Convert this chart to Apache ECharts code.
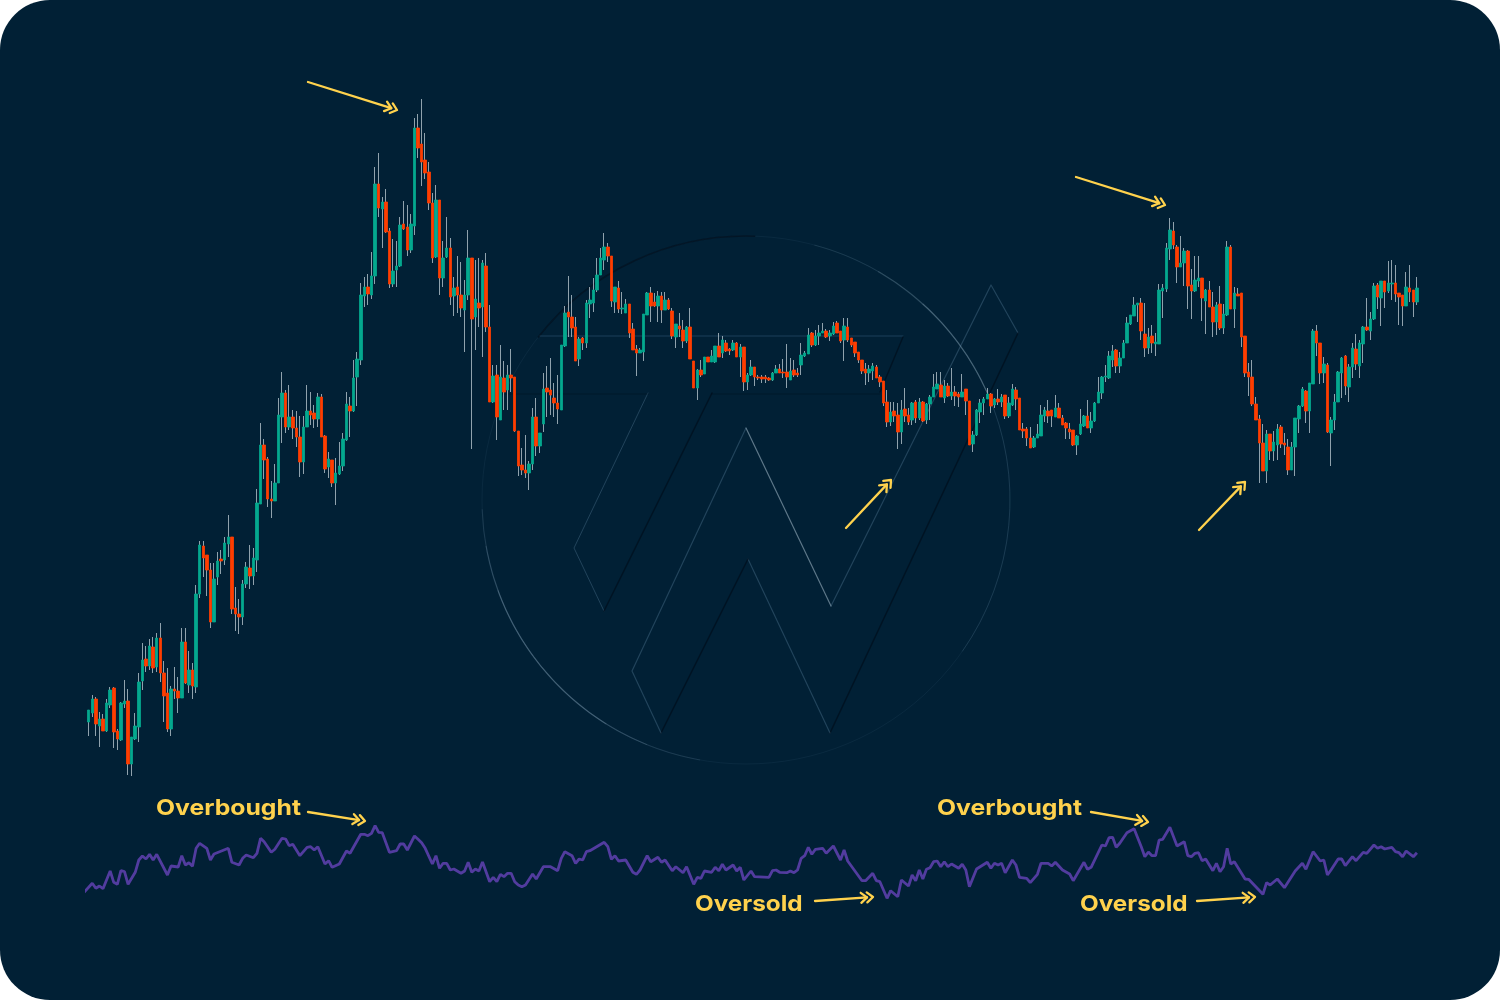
<!DOCTYPE html>
<html>
<head>
<meta charset="utf-8">
<style>html,body{margin:0;padding:0;background:#fff}#c{width:1500px;height:1000px}</style>
<script src="https://cdn.jsdelivr.net/npm/echarts@6/dist/echarts.min.js"></script>
</head>
<body>
<div id="c"></div>
<script>
// candles: [open, close, low, high]
const candlesA = [[278,290,264,290],[287,301,283,305],[301,276,264,303],[274,281,253,288],[281,269,269,286],[269,297,268,301],[295,310,292,313],[312,268,252,313],[269,261,250,271],[260,297,259,298],
[296,299,292,320],[299,236,225,311],[236,263,224,263],[261,274,260,287],[273,318,258,327],[319,340,310,357],[341,334,328,354],[334,354,330,361],[353,332,327,363],[333,362,328,367],
[362,327,318,377],[327,304,278,339],[307,271,268,332],[271,311,264,314],[311,309,301,333],[309,302,287,323],[302,358,302,372],[358,317,316,372],[315,330,307,349],[330,314,301,337],
[313,406,307,415],[406,455,402,459],[454,442,423,459],[445,430,404,445],[430,378,372,437],[378,421,378,437],[423,439,415,448],[441,439,426,450],[440,457,435,463],[456,463,443,485],
[463,391,386,463],[392,386,369,413],[386,383,366,401],[383,416,375,420],[416,433,412,438],[432,424,411,455],[424,442,415,452],[440,497,428,511],[496,555,496,577],[555,540,521,561],
[541,501,493,543],[501,499,482,519],[499,517,499,536],[517,585,517,602],[583,607,557,628],[607,573,567,610],[573,583,570,615],[583,572,561,590],[572,563,553,589],[563,538,523,584],
[538,573,526,584],[573,589,573,615],[589,585,575,608],[587,581,572,595],[581,603,573,607],[603,563,563,606],[564,531,527,565],[533,541,522,548],[540,517,513,540],[517,527,495,542],
[526,534,525,558],[534,561,529,567],[560,596,559,608],[594,589,563,603],[589,622,588,640],[623,641,594,648],[640,705,635,717],[704,713,693,723],[713,706,695,726],[705,724,701,748],
[724,816,716,833],[816,792,783,847],[791,798,752,803],[798,768,767,811],[769,716,712,772],[716,729,713,761],[730,734,713,759],[734,775,733,783],[776,771,770,799],[773,750,744,795],
[750,776,747,786],[774,872,765,882],[872,852,842,886],[856,838,814,901],[840,827,821,867],[828,797,790,838],[797,742,737,807],[743,800,742,815],[800,722,705,800],[722,742,713,759]];
const candlesB = [[743,752,742,783],[752,703,695,762],[704,712,684,723],[713,705,687,744],[705,692,683,738],[690,705,648,720],[705,742,700,770],[742,681,551,742],[683,701,650,740],[697,692,673,742],
[693,737,643,740],[734,673,668,747],[673,598,598,695],[598,624,597,635],[625,583,560,635],[580,623,580,655],[622,608,590,639],[610,625,590,635],[625,622,608,651],[623,569,568,623],
[569,534,524,569],[535,530,525,552],[530,527,522,565],[527,536,510,539],[536,583,530,592],[583,554,544,602],[554,567,547,567],[576,611,568,627],[612,608,583,634],[610,605,585,642],
[602,597,583,617],[597,591,576,625],[590,655,590,655],[654,687,653,694],[688,683,663,724],[683,672,663,705],[673,639,639,683],[641,661,634,663],[662,657,650,663],[657,697,652,700],
[696,700,682,713],[697,710,688,722],[710,725,708,742],[725,742,725,752],[740,753,730,767],[753,744,738,757],[744,699,693,744],[698,713,687,713],[712,691,687,719],[691,692,686,708],
[687,696,687,701],[696,667,662,696],[671,650,650,677],[651,647,624,655],[647,650,647,652],[648,686,639,686],[685,707,685,708],[707,694,678,713],[698,694,693,707],[694,704,678,709],
[704,690,677,708],[690,700,690,708],[700,691,690,702],[689,664,661,692],[663,676,652,676],[674,671,663,687],[670,659,652,680],[659,673,657,674],[673,641,641,692],[639,612,612,639],
[612,630,600,631],[630,625,623,640],[626,643,626,643],[643,638,638,643],[638,644,638,650],[638,654,637,654],[654,643,643,667],[647,660,642,664],[657,649,648,660],[651,649,645,652],
[650,657,649,660],[657,643,643,658],[643,653,623,656],[653,618,609,653],[618,625,610,627],[625,633,624,640],[633,623,614,633],[623,622,620,625],[623,621,617,625],[623,621,617,625],
[622,620,619,623],[620,627,619,628],[627,631,627,635],[631,627,627,636],[628,627,622,641],[628,623,612,656],[620,629,620,642],[630,625,623,640],[627,625,623,632],[635,645,625,657]];
const candlesC = [[644,647,643,649],[646,665,646,672],[667,655,653,668],[655,664,654,670],[664,667,655,675],[667,669,667,677],[669,663,662,671],[664,667,659,670],[666,674,665,678],[677,667,667,679],
[669,659,657,669],[660,674,639,682],[673,660,658,682],[662,655,653,662],[658,647,643,658],[648,640,637,648],[640,629,626,640],[631,627,615,637],[627,631,618,635],[629,634,620,637],
[633,622,622,635],[623,618,613,625],[619,597,594,619],[598,578,573,610],[578,588,574,598],[589,584,578,598],[585,568,551,597],[568,590,556,600],[591,584,578,612],[585,578,575,592],
[580,597,575,598],[598,582,577,600],[582,598,580,602],[598,579,578,599],[580,596,576,597],[596,603,580,605],[603,613,603,626],[611,616,611,628],[615,603,603,628],[602,614,597,620],
[614,604,603,617],[604,608,600,632],[608,604,594,614],[606,603,593,608],[603,608,603,626],[611,599,585,611],[599,555,555,599],[556,565,548,569],[565,590,564,591],[588,597,577,601],
[597,601,585,603],[601,606,601,612],[606,594,587,607],[595,601,592,602],[601,598,595,611],[598,603,593,606],[605,584,581,605],[584,597,582,603],[595,611,594,616],[610,601,590,613],
[602,570,570,602],[571,569,562,577],[571,562,554,573],[562,552,552,573],[553,562,552,564],[562,566,562,576],[564,585,564,595],[584,590,578,593],[589,584,577,600],[590,584,573,590],
[583,592,583,605],[592,582,582,597],[582,575,575,585],[577,572,561,578],[571,568,561,577],[570,555,554,570],[555,564,545,565],[566,576,565,591],[574,584,573,585],[584,572,572,600],
[572,579,567,588],[579,597,578,598],[597,608,597,623],[607,623,601,624],[623,624,618,635],[622,644,621,649],[640,649,633,655],[650,634,627,651],[634,642,627,648],[642,657,642,660],
[657,677,657,683],[676,685,675,685],[684,695,684,703],[695,697,678,697],[697,669,660,702],[666,652,643,697],[652,663,646,672],[664,657,647,675],[656,658,644,667],[656,710,656,716]];
const candlesD = [[709,712,682,716],[711,752,708,757],[751,770,740,782],[769,755,751,778],[753,733,717,755],[733,737,733,764],[737,749,714,752],[749,714,691,750],[715,709,681,731],[709,720,708,744],
[719,722,713,744],[722,702,679,722],[699,710,666,711],[710,693,693,719],[693,678,663,708],[678,695,665,698],[696,672,670,714],[672,686,666,696],[685,753,684,759],[753,691,691,755],
[691,707,672,713],[706,704,704,712],[707,663,653,707],[664,627,623,664],[628,623,604,637],[623,596,594,640],[596,580,580,603],[581,557,517,585],[557,529,529,576],[529,566,517,570],
[566,549,540,566],[549,558,539,569],[555,571,540,576],[573,556,552,575],[557,555,545,567],[553,530,525,561],[530,553,530,558],[553,582,524,582],[581,594,567,595],[594,611,593,613],
[609,589,577,610],[589,617,567,617],[616,669,616,671],[669,657,644,675],[657,627,616,657],[627,636,617,643],[635,568,567,637],[567,580,534,583],[580,598,570,606],[598,628,598,629],
[627,642,602,643],[644,614,605,645],[613,633,598,636],[633,652,622,657],[651,636,630,666],[634,657,622,660],[656,673,637,674],[673,670,669,702],[669,681,660,688],[681,714,680,717],
[715,703,691,717],[702,719,674,719],[719,708,692,719],[709,717,707,739],[716,717,700,740],[717,706,698,735],[707,703,675,707],[705,694,674,705],[694,713,694,728],[712,708,698,735],
[710,698,683,710],[698,712,695,723]];

// RSI-style oscillator read at its turning points: bar index and level 0-100
const rsiBars = [-1.3,1,2,3,4,6,7,8,9,10,11,13,14,15,16,17,18,19,22,23,25,26,27,28,29,30,31,33,34,35,39,40,42,43,44,46,47,48,49,51,52,54,55,56,57,58,59,61,62,63,64,66,67,68,70,72,73,76,77,78,79,80,81,82,84,86,87,88,89,91,92,93,94,96,97,98,99,100,101,102,104,105,106,107,108,109,110,112,113,114,115,116,117,118,119,120,
121,122,124,125,127,129,131,132,133,135,136,137,138,139,140,144,145,146,147,148,150,152,153,154,156,157,159,160,161,163,164,166,167,169,170,171,172,174,175,176,177,178,180,181,182,183,185,186,190,191,192,193,195,196,197,198,199,200,201,202,203,205,206,208,210,211,212,216,217,219,220,221,223,224,226,227,229,230,231,232,233,234,235,236,237,238,239,240,241,243,244,245,
246,248,251,252,253,254,255,256,258,259,260,262,263,265,266,268,269,270,272,274,275,278,279,280,283,284,285,286,287,288,290,292,294,295,296,297,298,299,300,302,304,306,307,308,309,310,311,312,314,315,316,317,318,319,320,323,324,328,329,330,332,334,337,339,340,342,344,345,346,347,349,350,351,353,354,356,357,359,360,361,362,364,365,366,367,368,370,371];
const rsiValues = [7.7,16.7,11.7,14,11.3,29,17.7,15.7,29.3,28.3,15.7,27.7,40,44,41,45.7,40,45.7,25,34,33,44.3,35,37.3,33.7,51.7,56.7,51.7,40,46,51.7,37.7,35,41.7,45,42.3,46.7,61.7,58.3,47.7,50.7,61.7,61,54.3,55.7,50,44.3,52.7,53.3,50,53.3,36,39.3,32.7,36,49,46.7,65.7,65.7,64.3,66.7,74.3,67.7,67.3,47.7,49.3,56,56,50,64,60.7,57.3,51.7,36,44.3,31.7,36.7,36.7,30,31,26.7,29,37.7,27.7,31,29,38,18.3,22.7,18.3,25.7,23.3,26.7,26.7,18.3,15,
13.3,15,26,21,33.3,33.3,29.3,41.7,48.3,44.3,36.7,41,40,48.3,49.3,57.7,53.3,40.7,44.3,39,40,27.7,25.7,30,44.3,38.3,42.7,37.7,40,29.3,33.3,27.3,33.3,15.7,22.7,21.7,29,27.7,32.7,29.3,35.7,30,35,29,32.7,20,29,23.3,22.7,29.3,30,27.7,27.3,29,27.3,30,41.7,44.3,52.7,45.7,50.7,51.7,46.7,54,40,50,39,19.3,19.3,26.7,19.3,18.3,1.7,9.3,3.3,20,14,25,19.3,30,21,30.7,32.3,38.3,39,33.3,38.3,33.3,36,31.7,35.7,30,
13.3,31,37.7,31.7,36.7,35,36.7,27.3,40,35,22.7,21.7,17.3,25.7,36.7,36.7,34,37.7,30,26,19.3,37.7,30.7,32.7,55,54,62.3,62.7,52.7,56.7,67.3,71.3,53.3,43.3,48,44.3,44.3,60,60.7,72.7,54,58.3,44.3,43.3,46.7,47.3,39.3,41,29.3,36.7,28.3,33.3,51.7,36,38.3,21,20.7,5.7,17.3,15,21,12.3,29,36.7,30.7,48.3,39,40,25,30,41,41,34.3,43.3,39.3,47.7,46.7,55,51.7,53.3,51,52.7,48.3,47.3,43.3,49,43.3,47.3];

const callouts = [
  {text:'Overbought', x:156, y:808, stretch:1.125}, {text:'Overbought', x:937, y:808, stretch:1.125},
  {text:'Oversold', x:695, y:904, stretch:1.105}, {text:'Oversold', x:1080, y:904, stretch:1.105}
];
const arrows = [
  [308,82,397,110],[1076,177,1165,205],[846,528,891,480],[1199,530,1245,482],
  [308,812,365,821],[1091,812,1148,822],[815,901,873,897],[1197,901,1255,897]
];

const candles = candlesA.concat(candlesB, candlesC, candlesD);
const bars = candles.map((_, i) => String(i));
const bodies = candles.map(c => [c[0], c[1], Math.min(c[0], c[1]), Math.max(c[0], c[1])]);
const rsiData = rsiBars.map((b, i) => [b, rsiValues[i]]);

const GREEN = '#04a88e', RED = '#ff3d00', WICK = 'rgba(185,198,208,0.78)', YELLOW = '#ffd24d';
const FAINT = 'rgba(110,150,180,0.30)', LIGHT = 'rgba(185,205,220,0.50)', DARK = 'rgba(0,12,24,0.62)';

function poly(points, stroke, lineWidth) {
  return {type:'polyline', shape:{points}, style:{stroke, lineWidth:lineWidth||1, fill:'none', lineJoin:'round', lineCap:'round'}, silent:true};
}
function arc(a, b, stroke, lineWidth) {
  return {type:'arc', shape:{cx:746, cy:500, r:264, startAngle:a*Math.PI/180, endAngle:b*Math.PI/180, clockwise:true},
    style:{stroke, lineWidth:lineWidth||1, fill:'none'}, silent:true};
}
function arrow(a) {
  const [x1,y1,x2,y2] = a, t = Math.atan2(y2-y1, x2-x1), c = Math.cos(t), s = Math.sin(t);
  const at = (d, n) => [x2 - d*c - n*s, y2 - d*s + n*c];
  return [
    poly([[x1,y1], at(6,0)], YELLOW, 2.3),
    poly([at(6,-5), at(0,0), at(6,5)], YELLOW, 2.3),
    poly([at(12,-5), at(6,0), at(12,5)], YELLOW, 2.3)
  ];
}

const elements = [
  {type:'rect', shape:{x:0,y:0,width:1500,height:1000,r:50}, style:{fill:'#012035'}, silent:true},
  // faint embossed emblem behind the chart
  arc(0, 360, 'rgba(90,130,160,0.10)', 1),
  arc(218, 272, DARK, 1.5),
  arc(285, 336, 'rgba(150,180,200,0.12)', 1.2),
  arc(300, 336, 'rgba(170,195,215,0.14)', 1.2),
  arc(312, 336, 'rgba(185,205,220,0.18)', 1.2),
  arc(336, 395, 'rgba(120,155,180,0.16)', 1),
  arc(100, 178, 'rgba(165,190,210,0.12)', 1.2),
  arc(112, 170, 'rgba(165,190,210,0.14)', 1.2),
  arc(122, 160, 'rgba(175,198,215,0.16)', 1.2),
  poly([[746,428],[831,606]], LIGHT, 1.2),
  poly([[831,606],[991,285],[1018,333]], FAINT, 1.2),
  poly([[1018,333],[830,733]], DARK, 1.5),
  poly([[830,733],[748,559]], FAINT, 1.2),
  poly([[748,559],[661,733]], DARK, 1.5),
  poly([[661,733],[632,671],[746,428]], FAINT, 1.2),
  poly([[648,393],[574,548],[604,611]], FAINT, 1),
  poly([[604,611],[712,393]], DARK, 1.5),
  poly([[540,336],[903,336]], 'rgba(110,160,195,0.26)', 1),
  poly([[903,337],[880,392]], DARK, 1.4),
  poly([[500,394],[648,394]], 'rgba(0,12,24,0.35)', 1),
  poly([[712,394],[880,394]], 'rgba(0,12,24,0.35)', 1)
];
const notes = arrows.flatMap(arrow).concat(callouts.map(c => ({
  type:'text', silent:true, x:c.x, y:c.y, scaleX:c.stretch,
  style:{text:c.text, x:0, y:0, fill:YELLOW, font:'700 22px Inter', textVerticalAlign:'middle', textAlign:'left'}
})));

const chart = echarts.init(document.getElementById('c'));
chart.setOption({
  animation:false,
  backgroundColor:'#ffffff',
  graphic:{elements:elements.concat(notes.map(n => Object.assign({z:100}, n)))},
  grid:[
    {left:86.9, width:1331.8, top:0, height:1000},
    {left:86.9, width:1331.8, top:800, height:100}
  ],
  xAxis:[
    {type:'category', data:bars, show:false, gridIndex:0, boundaryGap:true},
    {type:'value', min:-0.5, max:371.5, show:false, gridIndex:1}
  ],
  yAxis:[
    {type:'value', min:0, max:1000, show:false, gridIndex:0},
    {type:'value', min:0, max:100, show:false, gridIndex:1}
  ],
  series:[
    {type:'candlestick', name:'Wicks', xAxisIndex:0, yAxisIndex:0, data:candles, barWidth:1, silent:true,
      itemStyle:{color:WICK, color0:WICK, borderColor:WICK, borderColor0:WICK, borderWidth:1}},
    {type:'candlestick', name:'Price', xAxisIndex:0, yAxisIndex:0, data:bodies, barWidth:3, silent:true,
      itemStyle:{color:GREEN, color0:RED, borderColor:GREEN, borderColor0:RED, borderWidth:0.8}},
    {type:'line', name:'RSI', xAxisIndex:1, yAxisIndex:1, data:rsiData, showSymbol:false, symbol:'none', clip:false, silent:true,
      lineStyle:{color:'#523c9f', width:2.8}}
  ]
});
</script>
</body>
</html>
